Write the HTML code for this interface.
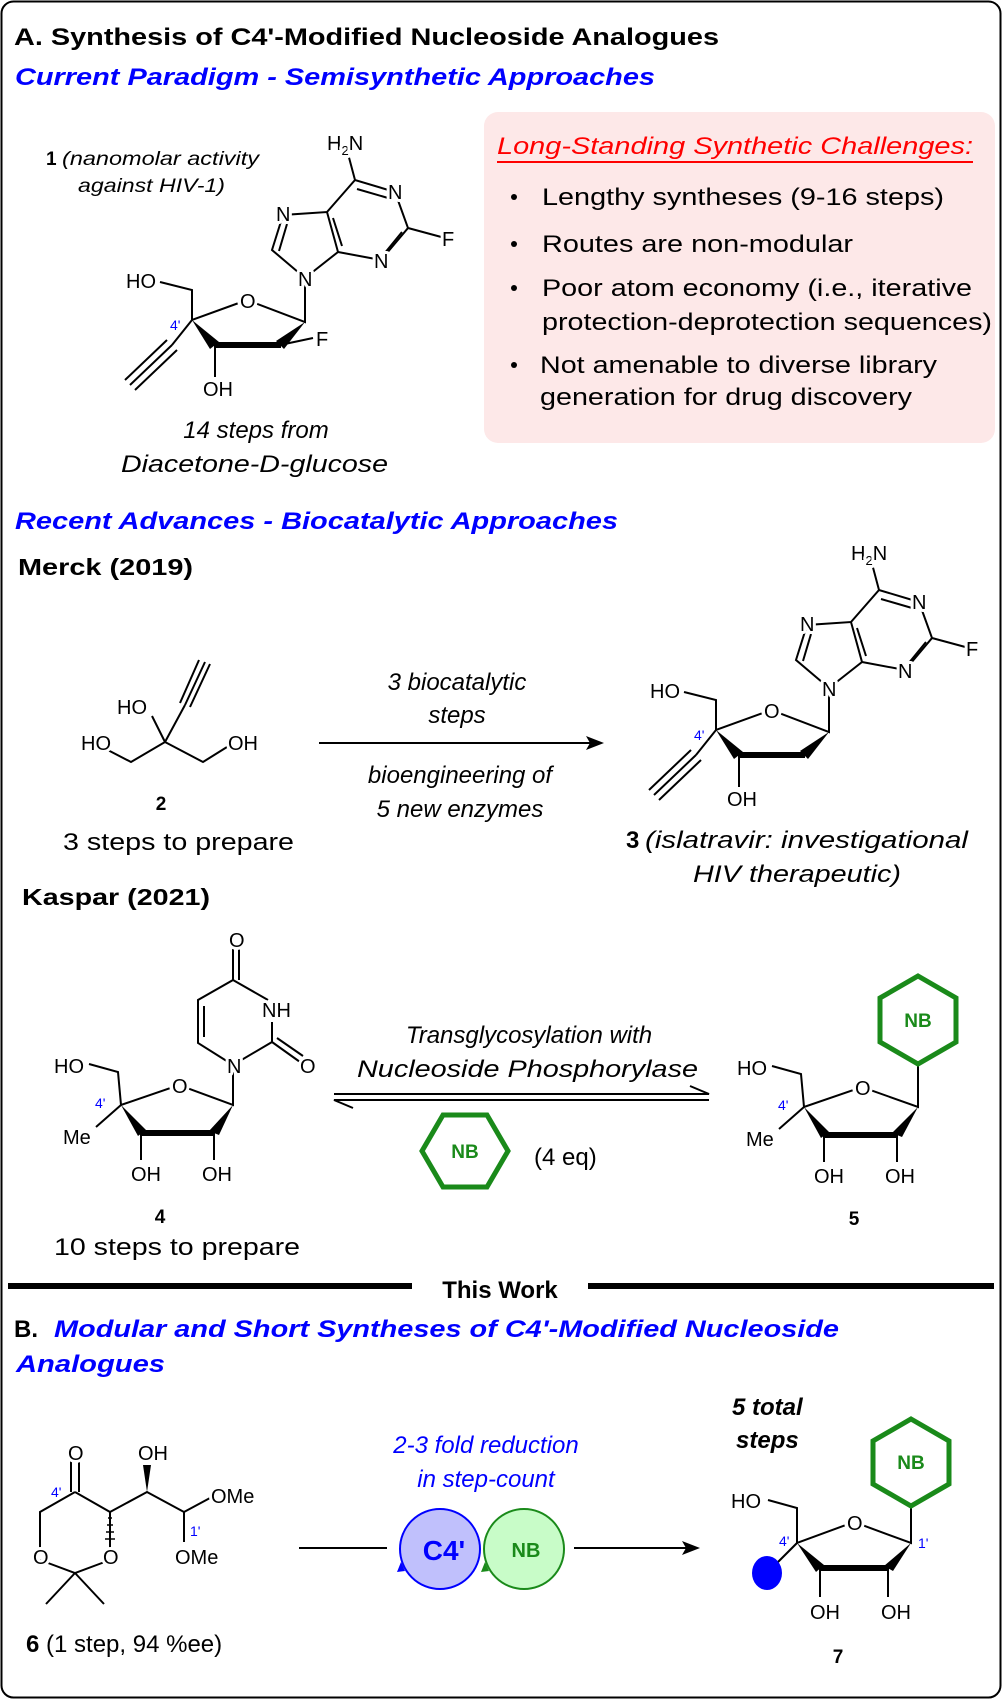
<!DOCTYPE html>
<html><head><meta charset="utf-8"><style>
html,body{margin:0;padding:0;background:#fff}
svg{display:block}
text{font-family:"Liberation Sans",Arial,sans-serif}
.a{font-size:20px;paint-order:stroke;stroke:#fff;stroke-width:6px;stroke-linejoin:round}
.l{font-size:14px;fill:#0000ff}
.b{stroke:#000;stroke-width:2;fill:none}
.it{font-style:italic}
.bl{fill:#0000ff;font-weight:bold;font-style:italic}
</style></head><body>
<svg width="1002" height="1700" viewBox="0 0 1002 1700" xmlns="http://www.w3.org/2000/svg">
<rect x="1.5" y="1.5" width="999" height="1696" rx="12" fill="#fff" stroke="#000" stroke-width="2"/>
<text x="14" y="45" font-size="24" font-weight="bold" textLength="705" lengthAdjust="spacingAndGlyphs">A. Synthesis of C4'-Modified Nucleoside Analogues</text>
<text x="15" y="85" font-size="24" class="bl" textLength="640" lengthAdjust="spacingAndGlyphs">Current Paradigm - Semisynthetic Approaches</text>

<rect x="484" y="112" width="511" height="331" rx="14" fill="#fde8e8"/>
<text x="497" y="154" font-size="24" class="it" fill="#ff0000" textLength="476" lengthAdjust="spacingAndGlyphs">Long-Standing Synthetic Challenges:</text>
<line x1="497" y1="162" x2="973" y2="162" stroke="#ff0000" stroke-width="2"/>
<g font-size="24">
<circle cx="514" cy="197" r="3"/><text x="542" y="205" textLength="402" lengthAdjust="spacingAndGlyphs">Lengthy syntheses (9-16 steps)</text>
<circle cx="514" cy="244" r="3"/><text x="542" y="252" textLength="311" lengthAdjust="spacingAndGlyphs">Routes are non-modular</text>
<circle cx="514" cy="288" r="3"/><text x="542" y="296" textLength="430" lengthAdjust="spacingAndGlyphs">Poor atom economy (i.e., iterative</text>
<text x="542" y="330" textLength="450" lengthAdjust="spacingAndGlyphs">protection-deprotection sequences)</text>
<circle cx="514" cy="365" r="3"/><text x="540" y="373" textLength="397" lengthAdjust="spacingAndGlyphs">Not amenable to diverse library</text>
<text x="540" y="405" textLength="372" lengthAdjust="spacingAndGlyphs">generation for drug discovery</text>
</g>

<text x="46" y="165" font-size="19" font-weight="bold">1</text>
<text x="62" y="165" font-size="19" class="it" textLength="197" lengthAdjust="spacingAndGlyphs">(nanomolar activity</text>
<text x="78" y="192" font-size="19" class="it" textLength="147" lengthAdjust="spacingAndGlyphs">against HIV-1)</text>

<!-- compound 1 -->
<g>
<path class="b" d="M160,282 L192,290 L192,320 L247,300 L305,322 L305,285 M305,278 L272,250 L283,215 L327,212 L338,252 L305,278 M327,212 L355,180 L395,192 L408,228 L381,260 L338,252 M355,180 L347,150 M408,228 L445,238 M215,345 L215,377 M192,320 L172,345"/>
<path class="b" d="M279,251 L287,224 M333,218 L342,246 M357,189 L388,198 M402,232 L384,254"/>
<path class="b" d="M172,345 L130,385 M167,340 L125,380 M177,350 L135,390" stroke-width="1.8"/>
<polygon points="305,322 276,341 284,349"/>
<polygon points="192,320 210,349 219,342"/>
<line x1="214" y1="345" x2="281" y2="345" stroke="#000" stroke-width="6"/>
<circle cx="247" cy="300" r="10" fill="#fff"/>
<text class="a" x="126" y="288">HO</text>
<text class="a" x="240" y="308">O</text>
<text class="a" x="298" y="286">N</text>
<text class="a" x="276" y="221">N</text>
<text class="a" x="388" y="199">N</text>
<text class="a" x="374" y="268">N</text>
<text class="a" x="327" y="150">H<tspan font-size="13" dy="5">2</tspan><tspan dy="-5">N</tspan></text>
<text class="a" x="203" y="396">OH</text>
<text class="l" x="170" y="330">4'</text>
</g>
<line x1="280" y1="345" x2="313" y2="338" stroke="#000" stroke-width="2"/>
<text class="a" x="442" y="246">F</text>
<text class="a" x="316" y="346">F</text>
<text x="256" y="438" font-size="24" class="it" text-anchor="middle">14 steps from</text>
<text x="121" y="472" font-size="24" class="it" textLength="267" lengthAdjust="spacingAndGlyphs">Diacetone-D-glucose</text>

<text x="15" y="529" font-size="24" class="bl" textLength="603" lengthAdjust="spacingAndGlyphs">Recent Advances - Biocatalytic Approaches</text>
<text x="18" y="575" font-size="23" font-weight="bold" textLength="175" lengthAdjust="spacingAndGlyphs">Merck (2019)</text>

<!-- compound 2 -->
<path class="b" d="M102,747 L131,762 L165,742 L203,762 L227,747 M165,742 L152,716 M165,742 L185,705"/>
<path class="b" d="M185,705 L205,662 M180,703 L199,660 M190,707 L210,664" stroke-width="1.8"/>
<text class="a" x="81" y="750">HO</text>
<text class="a" x="228" y="750">OH</text>
<text class="a" x="117" y="714">HO</text>
<text x="161" y="810" font-size="19" font-weight="bold" text-anchor="middle">2</text>
<text x="63" y="850" font-size="24" textLength="231" lengthAdjust="spacingAndGlyphs">3 steps to prepare</text>

<line x1="319" y1="743" x2="592" y2="743" stroke="#000" stroke-width="2"/>
<polygon points="604,743 586,736 590,743 586,750"/>
<g font-size="24" class="it" text-anchor="middle">
<text x="457" y="690">3 biocatalytic</text>
<text x="457" y="723">steps</text>
<text x="460" y="783">bioengineering of</text>
<text x="460" y="817">5 new enzymes</text>
</g>

<!-- compound 3 -->
<g transform="translate(524,410)">
<path class="b" d="M160,282 L192,290 L192,320 L247,300 L305,322 L305,285 M305,278 L272,250 L283,215 L327,212 L338,252 L305,278 M327,212 L355,180 L395,192 L408,228 L381,260 L338,252 M355,180 L347,150 M408,228 L445,238 M215,345 L215,377 M192,320 L172,345"/>
<path class="b" d="M279,251 L287,224 M333,218 L342,246 M357,189 L388,198 M402,232 L384,254"/>
<path class="b" d="M172,345 L130,385 M167,340 L125,380 M177,350 L135,390" stroke-width="1.8"/>
<polygon points="305,322 276,341 284,349"/>
<polygon points="192,320 210,349 219,342"/>
<line x1="214" y1="345" x2="281" y2="345" stroke="#000" stroke-width="6"/>
<circle cx="247" cy="300" r="10" fill="#fff"/>
<text class="a" x="126" y="288">HO</text>
<text class="a" x="240" y="308">O</text>
<text class="a" x="298" y="286">N</text>
<text class="a" x="276" y="221">N</text>
<text class="a" x="388" y="199">N</text>
<text class="a" x="374" y="268">N</text>
<text class="a" x="327" y="150">H<tspan font-size="13" dy="5">2</tspan><tspan dy="-5">N</tspan></text>
<text class="a" x="203" y="396">OH</text>
<text class="l" x="170" y="330">4'</text>
<text class="a" x="442" y="246">F</text>
</g>
<text x="626" y="848" font-size="24" font-weight="bold">3</text>
<text x="645" y="848" font-size="24" class="it" textLength="323" lengthAdjust="spacingAndGlyphs">(islatravir: investigational</text>
<text x="693" y="882" font-size="24" class="it" textLength="208" lengthAdjust="spacingAndGlyphs">HIV therapeutic)</text>

<text x="22" y="905" font-size="23" font-weight="bold" textLength="188" lengthAdjust="spacingAndGlyphs">Kaspar (2021)</text>

<!-- compound 4 -->
<path class="b" d="M89,1064 L118,1072 L121,1105 L179,1085 L233,1105 L233,1070 M121,1105 L96,1127 M141,1133 L141,1160 M214,1133 L214,1160 M233,1065 L198,1043 L198,1000 L233,980 L233,945 M233,980 L268,1000 M272,1022 L272,1042 L233,1065 M272,1042 L300,1062 M204,1006 L204,1037 M239,980 L239,945 M277,1038 L303,1056"/>
<polygon points="121,1105 138,1136 146,1130"/>
<polygon points="233,1105 209,1131 219,1135"/>
<line x1="140" y1="1133" x2="215" y2="1133" stroke="#000" stroke-width="6"/>
<circle cx="179" cy="1085" r="10" fill="#fff"/>
<text class="a" x="54" y="1073">HO</text>
<text class="a" x="172" y="1093">O</text>
<text class="a" x="227" y="1073">N</text>
<text class="a" x="262" y="1017">NH</text>
<text class="a" x="229" y="947">O</text>
<text class="a" x="300" y="1073">O</text>
<text class="a" x="63" y="1144">Me</text>
<text class="a" x="131" y="1181">OH</text>
<text class="a" x="202" y="1181">OH</text>
<text class="l" x="95" y="1108">4'</text>
<text x="160" y="1223" font-size="19" font-weight="bold" text-anchor="middle">4</text>
<text x="54" y="1255" font-size="24" textLength="246" lengthAdjust="spacingAndGlyphs">10 steps to prepare</text>

<!-- equilibrium -->
<path class="b" d="M334,1094 L709,1094 L690,1086 M709,1100 L334,1100 L353,1108"/>
<g font-size="24" class="it">
<text x="529" y="1043" text-anchor="middle">Transglycosylation with</text>
<text x="357" y="1077" textLength="341" lengthAdjust="spacingAndGlyphs">Nucleoside Phosphorylase</text>
</g>
<polygon points="422,1151 443,1115 487,1115 508,1151 487,1187 443,1187" fill="none" stroke="#1a8a1a" stroke-width="5"/>
<text x="465" y="1158" font-size="19" font-weight="bold" fill="#1a8a1a" text-anchor="middle">NB</text>
<text x="534" y="1165" font-size="24">(4 eq)</text>

<!-- compound 5 -->
<g transform="translate(683,2)">
<path class="b" d="M89,1064 L118,1072 L121,1105 L179,1085 L235,1105 L235,1063 M121,1105 L96,1127 M141,1133 L141,1160 M214,1133 L214,1160"/>
<polygon points="121,1105 138,1136 146,1130"/>
<polygon points="235,1105 209,1131 219,1135"/>
<line x1="140" y1="1133" x2="215" y2="1133" stroke="#000" stroke-width="6"/>
<circle cx="179" cy="1085" r="10" fill="#fff"/>
<text class="a" x="54" y="1073">HO</text>
<text class="a" x="172" y="1093">O</text>
<text class="a" x="63" y="1144">Me</text>
<text class="a" x="131" y="1181">OH</text>
<text class="a" x="202" y="1181">OH</text>
<text class="l" x="95" y="1108">4'</text>
</g>
<polygon points="918,976 956,998 956,1042 918,1064 880,1042 880,998" fill="#fff" stroke="#1a8a1a" stroke-width="5"/>
<text x="918" y="1027" font-size="19" font-weight="bold" fill="#1a8a1a" text-anchor="middle">NB</text>
<text x="854" y="1225" font-size="19" font-weight="bold" text-anchor="middle">5</text>

<!-- This Work -->
<line x1="8" y1="1286" x2="412" y2="1286" stroke="#000" stroke-width="6"/>
<line x1="588" y1="1286" x2="994" y2="1286" stroke="#000" stroke-width="6"/>
<text x="500" y="1298" font-size="24" font-weight="bold" text-anchor="middle">This Work</text>
<text x="14" y="1337" font-size="24" font-weight="bold">B.</text>
<text x="54" y="1337" font-size="24" class="bl" textLength="785" lengthAdjust="spacingAndGlyphs">Modular and Short Syntheses of C4'-Modified Nucleoside</text>
<text x="16" y="1372" font-size="24" class="bl" textLength="149" lengthAdjust="spacingAndGlyphs">Analogues</text>

<!-- compound 6 -->
<path class="b" d="M75,1492 L40,1512 L40,1550 M40,1560 L75,1573 L110,1560 M110,1550 L110,1512 L75,1492 M110,1512 L147,1492 L184,1512 L210,1498 M184,1512 L184,1542 M75,1573 L46,1604 M75,1573 L104,1604 M71,1492 L71,1460 M79,1492 L79,1460"/>
<polygon points="147,1492 143,1465 151,1465"/>
<g stroke="#000" stroke-width="1.5">
<line x1="108" y1="1518" x2="112" y2="1518"/><line x1="107" y1="1525" x2="113" y2="1525"/><line x1="106" y1="1532" x2="114" y2="1532"/><line x1="105" y1="1539" x2="115" y2="1539"/>
</g>
<text class="a" x="68" y="1460">O</text>
<text class="a" x="138" y="1460">OH</text>
<text class="a" x="211" y="1503">OMe</text>
<text class="a" x="175" y="1564">OMe</text>
<text class="a" x="33" y="1564">O</text>
<text class="a" x="103" y="1564">O</text>
<text class="l" x="51" y="1497">4'</text>
<text class="l" x="190" y="1536">1'</text>
<text x="26" y="1652" font-size="24"><tspan font-weight="bold">6</tspan> (1 step, 94 %ee)</text>

<!-- arrow with circles -->
<line x1="299" y1="1548" x2="387" y2="1548" stroke="#000" stroke-width="2"/>
<line x1="574" y1="1548" x2="688" y2="1548" stroke="#000" stroke-width="2"/>
<polygon points="700,1548 682,1541 686,1548 682,1555"/>
<circle cx="440" cy="1549" r="40" fill="#c0c0fc" stroke="#0000ff" stroke-width="2"/>
<circle cx="524" cy="1549" r="40" fill="#c8fcc8" stroke="#1a8a1a" stroke-width="2"/>
<polygon points="401,1562 397,1572 405,1571" fill="#0000ff"/>
<polygon points="485,1562 481,1572 489,1571" fill="#1a8a1a"/>
<text x="444" y="1560" font-size="28" font-weight="bold" fill="#0000ff" text-anchor="middle">C4'</text>
<text x="526" y="1557" font-size="20" font-weight="bold" fill="#1a8a1a" text-anchor="middle">NB</text>
<text x="486" y="1453" font-size="24" class="it" fill="#0000ff" text-anchor="middle">2-3 fold reduction</text>
<text x="486" y="1487" font-size="24" class="it" fill="#0000ff" text-anchor="middle">in step-count</text>
<text x="732" y="1415" font-size="24" font-weight="bold" font-style="italic">5 total</text>
<text x="736" y="1448" font-size="24" font-weight="bold" font-style="italic">steps</text>

<!-- compound 7 -->
<path class="b" d="M768,1500 L797,1508 L797,1543 L854,1522 L911,1543 L911,1505 M820,1568 L820,1597 M888,1568 L888,1597"/>
<polygon points="797,1543 816,1572 824,1565"/>
<polygon points="911,1543 884,1566 893,1571"/>
<line x1="819" y1="1568" x2="889" y2="1568" stroke="#000" stroke-width="6"/>
<line x1="797" y1="1543" x2="772" y2="1568" stroke="#000" stroke-width="2"/>
<ellipse cx="767" cy="1573" rx="15" ry="17" fill="#0000ff"/>
<polygon points="911,1419 949,1441 949,1484 911,1506 873,1484 873,1441" fill="#fff" stroke="#1a8a1a" stroke-width="5"/>
<text x="911" y="1469" font-size="19" font-weight="bold" fill="#1a8a1a" text-anchor="middle">NB</text>
<circle cx="854" cy="1522" r="10" fill="#fff"/>
<text class="a" x="731" y="1508">HO</text>
<text class="a" x="847" y="1530">O</text>
<text class="a" x="810" y="1619">OH</text>
<text class="a" x="881" y="1619">OH</text>
<text class="l" x="779" y="1546">4'</text>
<text class="l" x="918" y="1548">1'</text>
<text x="838" y="1663" font-size="19" font-weight="bold" text-anchor="middle">7</text>
</svg>
</body></html>
